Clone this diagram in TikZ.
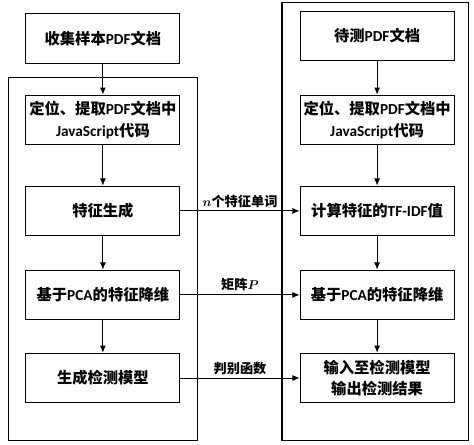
\documentclass[tikz,border=0pt]{standalone}
\usepackage{fontspec}
\setmainfont{Carlito}
\newfontfamily\zh{Noto Sans CJK SC}
\newfontfamily\lat{Carlito}
\usepackage{tikz}
\usetikzlibrary{
  arrows.meta,
  positioning
}
\newcommand{\en}[1]{{\lat #1}}

\begin{document}
\begin{tikzpicture}[
  font=\zh\bfseries\fontsize{14.5}{20}\selectfont,
  stepbox/.style={
    draw, line width=1pt,
    align=center, minimum width=5.13cm,
    minimum height=1.65cm
  },
  frame/.style={
    draw, line width=1pt},
  label/.style={
    font=\zh\bfseries\boldmath\fontsize{12.5}{15}\selectfont,
    above, inner sep=3pt},
  arrow/.style={
    -{Latex[length=2.4mm, width=2mm]},
    line width=0.9pt}
]
\useasboundingbox (0,0) rectangle (15.8,-14.8);

% training side
\draw[frame] (0.27,-2.57) rectangle (6.57,-14.67);
\node[stepbox] (l1) at (3.43,-1.28)
  {收集样本\en{PDF}文档};
\node[stepbox] (l2) at (3.43,-4.00)
  {定位、提取\en{PDF}文档中\\\en{JavaScript}代码};
\node[stepbox] (l3) at (3.43,-7.03)
  {特征生成};
\node[stepbox] (l4) at (3.43,-9.83)
  {基于\en{PCA}的特征降维};
\node[stepbox] (l5) at (3.43,-12.60)
  {生成检测模型};

% detection side
\draw[frame] (9.40,-0.07) rectangle (15.63,-14.67);
\node[stepbox] (r1) at (12.57,-1.20)
  {待测\en{PDF}文档};
\node[stepbox] (r2) at (12.57,-4.00)
  {定位、提取\en{PDF}文档中\\\en{JavaScript}代码};
\node[stepbox] (r3) at (12.57,-7.03)
  {计算特征的\en{TF-IDF}值};
\node[stepbox] (r4) at (12.57,-9.83)
  {基于\en{PCA}的特征降维};
\node[stepbox] (r5) at (12.57,-12.60)
  {输入至检测模型\\输出检测结果};

\draw[arrow] (l1) -- (l2);
\draw[arrow] (l2) -- (l3);
\draw[arrow] (l3) -- (l4);
\draw[arrow] (l4) -- (l5);
\draw[arrow] (r1) -- (r2);
\draw[arrow] (r2) -- (r3);
\draw[arrow] (r3) -- (r4);
\draw[arrow] (r4) -- (r5);

\draw[arrow] (l3) -- node[label] {$n$个特征单词} (r3);
\draw[arrow] (l4) -- node[label] {矩阵$P$} (r4);
\draw[arrow] (l5) -- node[label] {判别函数} (r5);

\end{tikzpicture}
\end{document}
